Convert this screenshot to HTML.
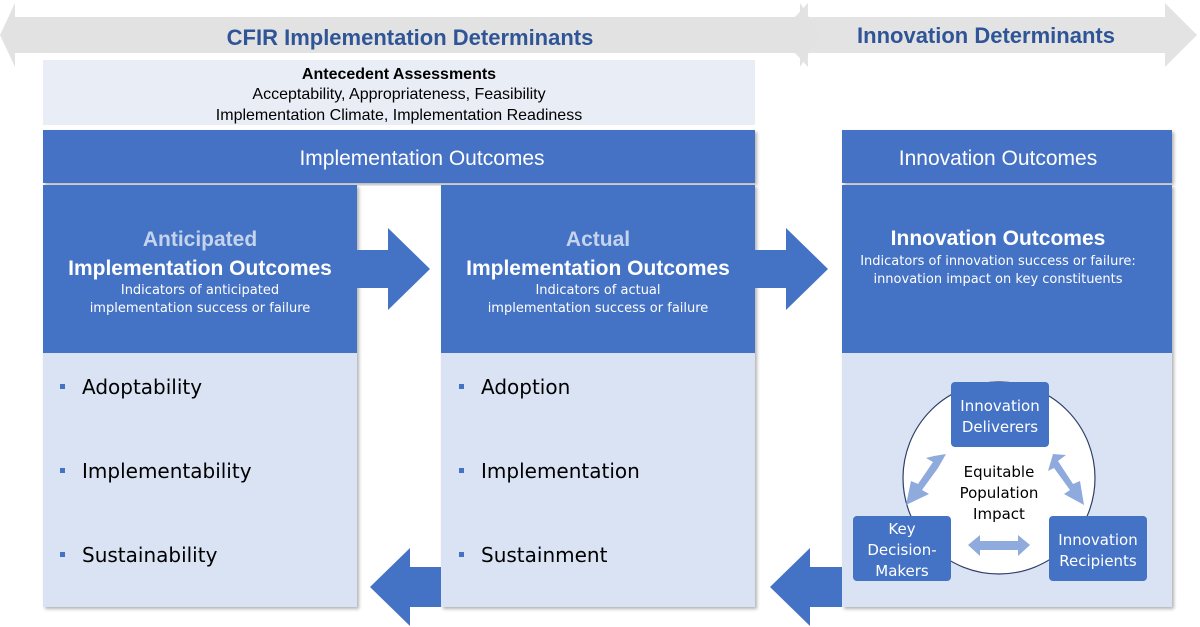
<!DOCTYPE html>
<html><head><meta charset="utf-8"><style>
body{margin:0;background:#fff}
svg{display:block}
text{font-family:"DejaVu Sans","Liberation Sans",sans-serif}
.n{font-family:"Liberation Sans Narrow","Liberation Sans",sans-serif}
</style></head><body>
<svg width="1200" height="627" viewBox="0 0 1200 627" xmlns="http://www.w3.org/2000/svg">
<defs><filter id="sh" x="-5%" y="-5%" width="110%" height="110%"><feDropShadow dx="2" dy="2" stdDeviation="1.5" flood-opacity="0.3"/></filter></defs>
<!-- top arrows -->
<polygon points="0,35 15,3 15,17 800,17 800,3 820,35 800,67 800,53 15,53 15,67" fill="#e2e2e2"/>
<polygon points="778,35 808,3 808,17 1165,17 1165,3 1197,35 1165,67 1165,53 808,53 808,67" fill="#e2e2e2" opacity="0.95"/>
<text class="n" x="410" y="45" font-size="22" font-weight="bold" fill="#2f5597" text-anchor="middle">CFIR Implementation Determinants</text>
<text class="n" x="986" y="43" font-size="22" font-weight="bold" fill="#2f5597" text-anchor="middle">Innovation Determinants</text>
<!-- antecedent -->
<rect x="43" y="60" width="712" height="65" fill="#e9edf6"/>
<text class="n" x="399" y="79" font-size="16" font-weight="bold" text-anchor="middle">Antecedent Assessments</text>
<text class="n" x="399" y="99" font-size="16" text-anchor="middle">Acceptability, Appropriateness, Feasibility</text>
<text class="n" x="399" y="120" font-size="16" text-anchor="middle">Implementation Climate, Implementation Readiness</text>
<!-- headers -->
<rect x="43" y="130" width="712" height="53" fill="#4472c4" filter="url(#sh)"/>
<text class="n" x="422" y="165" font-size="21" fill="#fff" text-anchor="middle">Implementation Outcomes</text>
<rect x="842" y="130" width="330" height="53" fill="#4472c4" filter="url(#sh)"/>
<text class="n" x="998" y="165" font-size="21" fill="#fff" text-anchor="middle">Innovation Outcomes</text>
<!-- columns -->
<g filter="url(#sh)">
<rect x="43" y="185" width="314" height="422" fill="#dae3f3"/>
<rect x="441" y="185" width="314" height="422" fill="#dae3f3"/>
<rect x="842" y="185" width="330" height="422" fill="#dae3f3"/>
</g>
<rect x="43" y="185" width="314" height="168" fill="#4472c4"/>
<rect x="441" y="185" width="314" height="168" fill="#4472c4"/>
<rect x="842" y="185" width="330" height="168" fill="#4472c4"/>
<text class="n" x="200" y="246" font-size="21" font-weight="bold" fill="#c5d3ec" text-anchor="middle">Anticipated</text>
<text class="n" x="200" y="275" font-size="21" font-weight="bold" fill="#fff" text-anchor="middle">Implementation Outcomes</text>
<text x="200" y="294" font-size="13" fill="#fff" text-anchor="middle">Indicators of anticipated</text>
<text x="200" y="312" font-size="13" fill="#fff" text-anchor="middle">implementation success or failure</text>
<text class="n" x="598" y="246" font-size="21" font-weight="bold" fill="#c5d3ec" text-anchor="middle">Actual</text>
<text class="n" x="598" y="275" font-size="21" font-weight="bold" fill="#fff" text-anchor="middle">Implementation Outcomes</text>
<text x="598" y="294" font-size="13" fill="#fff" text-anchor="middle">Indicators of actual</text>
<text x="598" y="312" font-size="13" fill="#fff" text-anchor="middle">implementation success or failure</text>
<text class="n" x="998" y="245" font-size="21" font-weight="bold" fill="#fff" text-anchor="middle">Innovation Outcomes</text>
<text x="998" y="265" font-size="13" fill="#fff" text-anchor="middle">Indicators of innovation success or failure:</text>
<text x="998" y="283" font-size="13" fill="#fff" text-anchor="middle">innovation impact on key constituents</text>
<!-- bullets -->
<g font-size="20" fill="#000">
<rect x="60" y="384" width="5" height="5" fill="#4472c4"/><text x="82" y="394">Adoptability</text>
<rect x="60" y="468" width="5" height="5" fill="#4472c4"/><text x="82" y="478">Implementability</text>
<rect x="60" y="552" width="5" height="5" fill="#4472c4"/><text x="82" y="562">Sustainability</text>
<rect x="459" y="384" width="5" height="5" fill="#4472c4"/><text x="481" y="394">Adoption</text>
<rect x="459" y="468" width="5" height="5" fill="#4472c4"/><text x="481" y="478">Implementation</text>
<rect x="459" y="552" width="5" height="5" fill="#4472c4"/><text x="481" y="562">Sustainment</text>
</g>
<!-- arrows -->
<polygon points="357,250 388,250 388,228 430,269 388,310 388,288 357,288" fill="#4472c4"/>
<polygon points="755,250 786,250 786,228 828,269 786,310 786,288 755,288" fill="#4472c4"/>
<polygon points="441,567 410,567 410,548 370,587 410,626 410,607 441,607" fill="#4472c4"/>
<polygon points="842,567 810,567 810,548 770,587 810,626 810,607 842,607" fill="#4472c4"/>
<!-- circle -->
<circle cx="999" cy="478" r="96" fill="#fff" stroke="#2f3f6a" stroke-width="1.2"/>
<g fill="#8faadc">
<polygon points="934,456 946,454 938,468 922,490 929,494 906,505 911,481 918,484 933,462 926,458"/>
<polygon points="1053,454 1066,455 1058,461 1073,484 1080,481 1084,505 1064,494 1070,490 1054,468 1048,471"/>
<polygon points="968,545 980,535 980,541 1018,541 1018,535 1030,545 1018,556 1018,550 980,550 980,556"/>
</g>
<g fill="#4472c4">
<rect x="951" y="382" width="98" height="65" rx="4"/>
<rect x="853" y="516" width="98" height="65" rx="4"/>
<rect x="1049" y="516" width="98" height="65" rx="4"/>
</g>
<g font-size="15" fill="#fff" text-anchor="middle">
<text x="1000" y="411">Innovation</text><text x="1000" y="432">Deliverers</text>
<text x="902" y="534">Key</text><text x="902" y="555">Decision-</text><text x="902" y="576">Makers</text>
<text x="1098" y="545">Innovation</text><text x="1098" y="566">Recipients</text>
</g>
<g font-size="15" fill="#000" text-anchor="middle">
<text x="999" y="477">Equitable</text><text x="999" y="498">Population</text><text x="999" y="519">Impact</text>
</g>
</svg>
</body></html>
